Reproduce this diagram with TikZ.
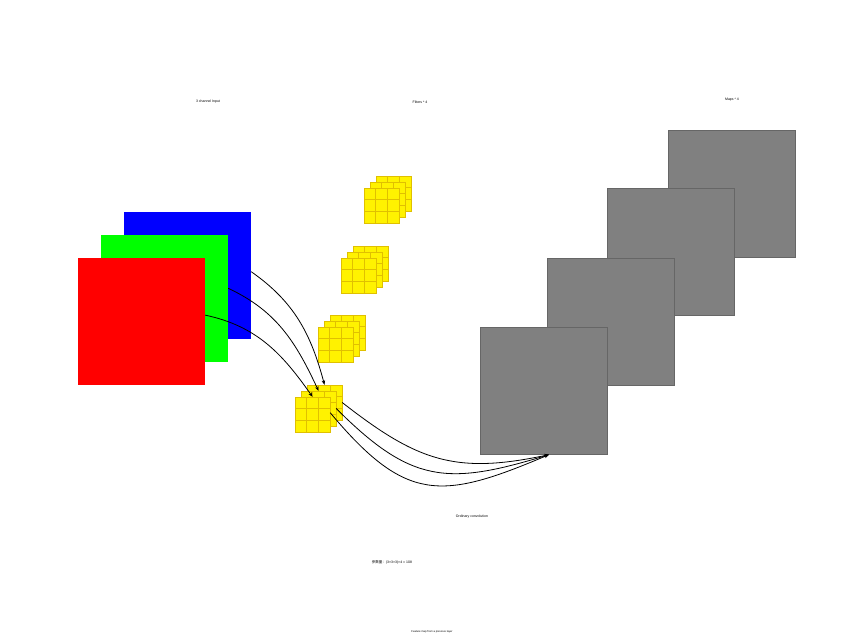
\documentclass[tikz,border=0pt]{standalone}
\usepackage{fontspec}
\setmainfont{Liberation Sans}
\newfontfamily\cjk{Noto Sans CJK SC}
\usetikzlibrary{calc,arrows.meta}
\definecolor{gridc}{HTML}{E0C000}
\definecolor{mapgray}{HTML}{808080}
\tikzset{
  chan/.style={minimum size=127pt, inner sep=0pt, draw=none},
  mapbox/.style={minimum size=127pt, inner sep=0pt, fill=mapgray, draw=mapgray!80!black, line width=0.3pt},
  filt/.style={minimum size=35pt, inner sep=0pt, fill=yellow, draw=gridc, line width=0.4pt,
    path picture={
      \foreach \t in {0.3333,0.6667}{
        \draw[gridc,line width=0.4pt] ($(path picture bounding box.south west)!\t!(path picture bounding box.south east)$) -- ($(path picture bounding box.north west)!\t!(path picture bounding box.north east)$);
        \draw[gridc,line width=0.4pt] ($(path picture bounding box.south west)!\t!(path picture bounding box.north west)$) -- ($(path picture bounding box.south east)!\t!(path picture bounding box.north east)$);
      }}},
  lbl/.style={font=\fontsize{3.5}{4.2}\selectfont, inner sep=0pt},
  conn/.style={line width=0.8pt, -{Stealth[length=4.5pt,width=3.5pt]}}
}
\begin{document}
\begin{tikzpicture}[x=1pt,y=-1pt]
\useasboundingbox (0,0) rectangle (865,634);
% input channels
\node[chan, fill=blue] (blue) at (187.5,275.5) {};
\node[chan, fill={rgb,255:red,0;green,255;blue,0}] (green) at (164.5,298.5) {};
\node[chan, fill=red] (red) at (141.5,321.5) {};
% filters
\foreach \g/\dx/\dy in {1/0/0,2/-23/70,3/-46/139,4/-69/209}{
  \node[filt] (f\g c) at ({393.5+\dx},{193.5+\dy}) {};
  \node[filt] (f\g b) at ({387.5+\dx},{199.5+\dy}) {};
  \node[filt] (f\g a) at ({381.5+\dx},{205.5+\dy}) {};
}
% maps
\node[mapbox] (m4) at (731.5,193.5) {};
\node[mapbox] (m3) at (671,251.5) {};
\node[mapbox] (m2) at (610.5,321.5) {};
\node[mapbox] (m1) at (543.5,390.5) {};
% labels
\node[lbl] (t1) at (208,102) {3 channel Input};
\node[lbl] (t2) at (420,102) {Filters * 4};
\node[lbl] (t3) at (732,99.5) {Maps * 4};
\node[lbl] (t4) at (472,517) {Ordinary convolution};
\node[lbl] (t5) at (392,562) {{\cjk 参数量：}(3×3×3)×4 = 108};
\node[lbl, font=\fontsize{2.7}{3.2}\selectfont] (t6) at (432,632) {Feature map from a previous layer};
% arrows inputs -> filter
\draw[conn] ($(blue.north east)!0.47!(blue.south east)$) to[out=-35,in=105] (f4c.north);
\draw[conn] ($(green.north east)!0.42!(green.south east)$) to[out=-25,in=115] (f4b.north);
\draw[conn] ($(red.north east)!0.45!(red.south east)$) to[out=-12,in=125] (f4a.north);
% arrows filter -> map
\coordinate (mt) at ($(m1.south)+(5.5,0.5)$);
\draw[conn] ($(f4c.north east)!0.5!(f4c.south east)$) to[out=-38,in=192,looseness=1.15] (mt);
\draw[conn] ($(f4b.north east)!0.5!(f4b.south east)$) to[out=-45,in=197,looseness=1.25] (mt);
\draw[conn] ($(f4a.north east)!0.45!(f4a.south east)$) to[out=-50,in=203,looseness=1.35] (mt);
\end{tikzpicture}
\end{document}
